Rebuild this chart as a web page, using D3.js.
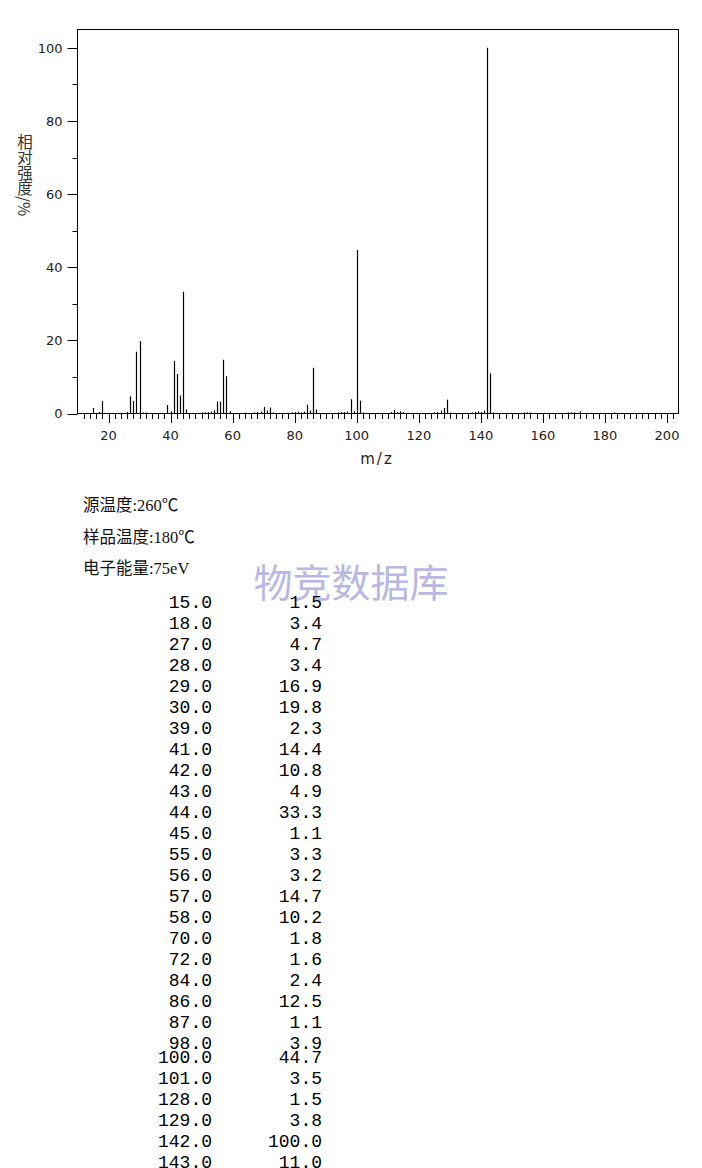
<!DOCTYPE html>
<html><head><meta charset="utf-8">
<script src="https://cdn.jsdelivr.net/npm/d3@7"></script>
<style>
html,body{margin:0;padding:0;background:#fff;}
svg{display:block;}
</style></head>
<body>
<svg id="c" width="702" height="1168"></svg>
<script>
// ---- data ----
const peakMz  = [15,18,27,28,29,30,39,41,42,43,44,45,55,56,57,58,70,72,84,86,87,98,100,101,128,129,142,143];
const peakInt = [1.5,3.4,4.7,3.4,16.9,19.8,2.3,14.4,10.8,4.9,33.3,1.1,3.3,3.2,14.7,10.2,1.8,1.6,2.4,12.5,1.1,3.9,44.7,3.5,1.5,3.8,100.0,11.0];
const minorMz  = [17,26,31,32,40,50,51,52,53,54,59,64,67,68,69,71,73,79,80,81,82,83,85,94,95,96,97,99,102,111,112,113,114,115,125,126,127,130,137,138,139,140,141,144,154,155,156,168,169,170,172,183];
const minorInt = [0.4,0.4,0.3,0.3,0.6,0.3,0.3,0.4,0.5,0.9,0.6,0.3,0.3,0.4,0.5,0.8,0.3,0.3,0.4,0.5,0.3,0.5,0.8,0.3,0.4,0.4,0.5,0.6,0.3,0.4,1.0,0.4,0.6,0.4,0.3,0.45,0.8,0.3,0.3,0.4,0.6,0.4,0.8,0.3,0.3,0.3,0.3,0.3,0.3,0.3,0.6,0.3];
const yTicks = [0,20,40,60,80,100];
const xTickLabels = [20,40,60,80,100,120,140,160,180,200];
const infoLines = ["源温度:260℃","样品温度:180℃","电子能量:75eV"];
const yLabel = "相对强度/%";
const xLabel = "m/z";
const watermark = "物竞数据库";

const svg = d3.select("#c");
const L = 77.5, R = 678.5, T = 29.5, B = 413.5;
const x = d3.scaleLinear().domain([10, 203.7]).range([L, R]);
const y = d3.scaleLinear().domain([0, 105]).range([B, T]);

// frame
svg.append("rect").attr("x", L).attr("y", T).attr("width", R - L).attr("height", B - T)
  .attr("fill", "none").attr("stroke", "#000").attr("stroke-width", 1);

// y ticks
const yMinor = d3.range(10, 100, 20);
svg.selectAll(".ymaj").data(yTicks).join("line")
  .attr("x1", L - 10).attr("x2", L).attr("y1", d => Math.round(y(d)) + 0.5).attr("y2", d => Math.round(y(d)) + 0.5)
  .attr("stroke", "#000");
svg.selectAll(".ymin").data(yMinor).join("line")
  .attr("x1", L - 5).attr("x2", L).attr("y1", d => Math.round(y(d)) + 0.5).attr("y2", d => Math.round(y(d)) + 0.5)
  .attr("stroke", "#000");
svg.selectAll(".ylab").data(yTicks).join("text")
  .attr("x", 62.5).attr("y", d => y(d) + 4.8)
  .attr("text-anchor", "end").attr("font-family", "DejaVu Sans, Verdana, sans-serif")
  .attr("font-size", 13).attr("fill", "#222").text(d => d);

// x ticks
const xMinor = d3.range(12, 204, 2);
svg.selectAll(".xt").data(xMinor).join("line")
  .attr("x1", d => Math.round(x(d)) + 0.5).attr("x2", d => Math.round(x(d)) + 0.5)
  .attr("y1", B).attr("y2", d => B + (d % 20 === 0 ? 9.5 : 5.5))
  .attr("stroke", "#000");
svg.selectAll(".xl").data(xTickLabels).join("text")
  .attr("x", d => x(d)).attr("y", 440)
  .attr("text-anchor", "middle").attr("font-family", "DejaVu Sans, Verdana, sans-serif")
  .attr("font-size", 13).attr("fill", "#222").text(d => d);

// axis titles
svg.append("text").attr("x", 377).attr("y", 463.5).attr("text-anchor", "middle")
  .attr("font-family", "DejaVu Sans, sans-serif").attr("font-size", 15).attr("letter-spacing", 2)
  .attr("fill", "#222").text(xLabel);
svg.append("text").attr("x", 25).attr("y", 134)
  .attr("font-family", "Noto Sans CJK SC, sans-serif").attr("font-size", 15.5)
  .style("writing-mode", "vertical-rl").attr("fill", "#333").text(yLabel);

// peaks
const allMz = peakMz.concat(minorMz), allInt = peakInt.concat(minorInt);
const peaks = allMz.map((m, i) => ({m, v: allInt[i]}));
svg.selectAll(".pk").data(peaks).join("line")
  .attr("x1", d => Math.round(x(d.m)) + 0.5).attr("x2", d => Math.round(x(d.m)) + 0.5)
  .attr("y1", B).attr("y2", d => y(d.v))
  .attr("stroke", "#000").attr("stroke-width", 1.2);

// info lines
svg.selectAll(".info").data(infoLines).join("text")
  .attr("x", 83).attr("y", (d, i) => 511 + i * 31.5)
  .attr("font-family", "Liberation Serif, Noto Sans CJK SC, serif").attr("font-size", 16.5)
  .attr("fill", "#111").text(d => d);

// watermark
svg.append("text").attr("x", 351).attr("y", 597).attr("text-anchor", "middle")
  .attr("font-family", "Noto Sans CJK SC, sans-serif").attr("font-size", 39)
  .attr("fill", "#b8b8e2").text(watermark);

// table
const tg = svg.append("g").attr("font-family", "Liberation Mono, Courier New, monospace")
  .attr("font-size", 18).attr("fill", "#000");
const rows = peakMz.map((m, i) => ({m, v: peakInt[i], i}));
tg.selectAll(".c1").data(rows).join("text")
  .attr("x", 212).attr("y", d => 608 + 21 * d.i - (d.m >= 100 ? 7 : 0))
  .attr("text-anchor", "end").text(d => d.m.toFixed(1));
tg.selectAll(".c2").data(rows).join("text")
  .attr("x", 322).attr("y", d => 608 + 21 * d.i - (d.m >= 100 ? 7 : 0))
  .attr("text-anchor", "end").text(d => d.v.toFixed(1));
</script>
</body></html>
